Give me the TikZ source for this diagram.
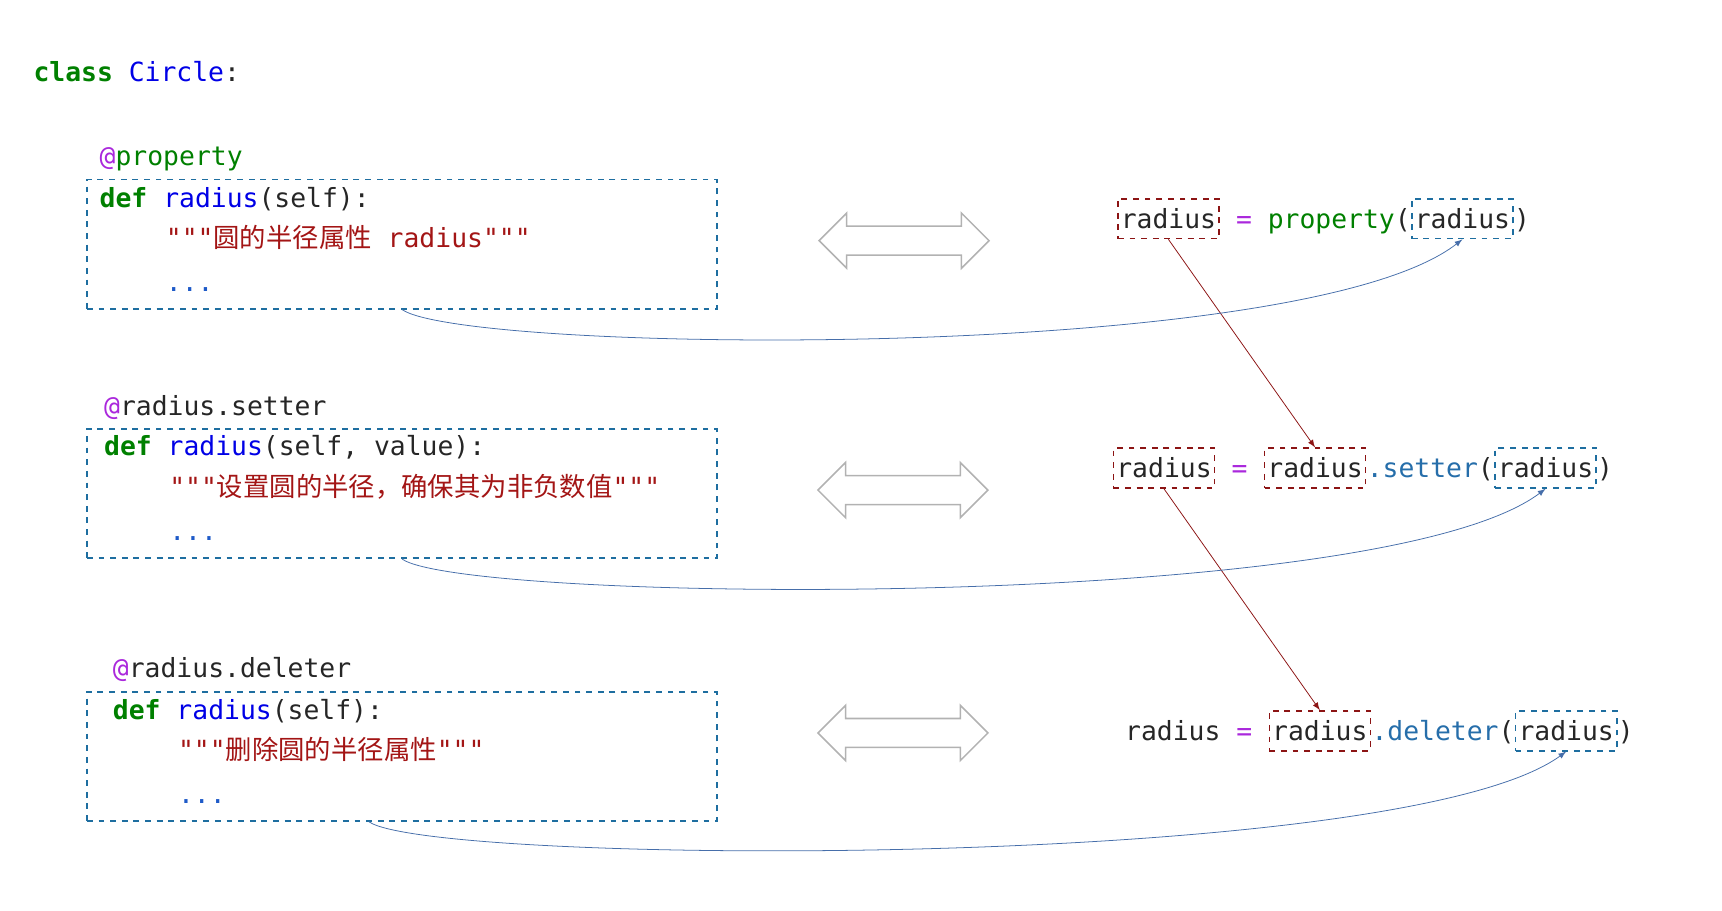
\documentclass[tikz,border=0pt]{standalone}
\usepackage{fontspec}
\setmonofont{DejaVu Sans Mono}
\newfontfamily\cjk{Noto Sans CJK SC}
\usetikzlibrary{shapes.arrows}
\definecolor{kw}{RGB}{0,128,0}
\definecolor{fn}{RGB}{0,0,230}
\definecolor{deco}{RGB}{170,40,220}
\definecolor{str}{RGB}{163,21,21}
\definecolor{dots}{RGB}{30,90,200}
\definecolor{meth}{RGB}{38,110,170}
\definecolor{bbox}{RGB}{30,110,160}
\definecolor{rbox}{RGB}{140,20,20}
\definecolor{curve}{RGB}{70,110,170}
\newcommand{\kwd}[1]{\textcolor{kw}{\textbf{#1}}}
\begin{document}
\begin{tikzpicture}[x=0.02cm,y=-0.02cm,
  code/.style={font=\ttfamily\fontsize{13.6}{16}\selectfont, anchor=base west, inner sep=0pt, text=black!85},
  cbox/.style={draw=bbox, dashed, thick, anchor=north west, inner sep=0pt, minimum width=11.42cm, minimum height=2.34cm},
  tok/.style={code},
  rb/.style={code, draw=rbox, dashed, thick, inner xsep=1.5pt, inner ysep=5pt},
  bb/.style={code, draw=bbox, dashed, thick, inner xsep=1.5pt, inner ysep=5pt},
  dbl/.style={double arrow, draw=black!30, thick, minimum height=3.08cm, minimum width=1cm, double arrow head extend=4pt, inner sep=4pt},
  redarr/.style={-latex, draw=rbox},
  bluearr/.style={-latex, draw=curve}]
\useasboundingbox (0,0) rectangle (1560,825);
\node[code] (cls) at (30,74) {\kwd{class} \textcolor{fn}{Circle}:};
% block 1
\node[cbox] (box1) at (78,162) {};
\node[code] (d1) at (90,150) {\textcolor{deco}{@}\textcolor{kw}{property}};
\node[code] (f1) at (90,188) {\kwd{def} \textcolor{fn}{radius}(self):};
\node[code] (s1) at (150,224) {\textcolor{str}{"""{\cjk 圆的半径属性} radius"""}};
\node[code] (e1) at (150,264) {\textcolor{dots}{...}};
% block 2
\node[cbox] (box2) at (78,388) {};
\node[code] (d2) at (94,376) {\textcolor{deco}{@}radius.setter};
\node[code] (f2) at (94,413) {\kwd{def} \textcolor{fn}{radius}(self, value):};
\node[code] (s2) at (153,450) {\textcolor{str}{"""{\cjk 设置圆的半径，确保其为非负数值}"""}};
\node[code] (e2) at (153,490) {\textcolor{dots}{...}};
% block 3
\node[cbox] (box3) at (78,626) {};
\node[code] (d3) at (102,614) {\textcolor{deco}{@}radius.deleter};
\node[code] (f3) at (102,652) {\kwd{def} \textcolor{fn}{radius}(self):};
\node[code] (s3) at (161,688) {\textcolor{str}{"""{\cjk 删除圆的半径属性}"""}};
\node[code] (e3) at (161,728) {\textcolor{dots}{...}};
% double arrows
\node[dbl] (a1) at (819,218) {};
\node[dbl] (a2) at (818,444) {};
\node[dbl] (a3) at (818,664) {};
% right line 1
\node[rb] (r1a) at (1012,207) {radius};
\node[tok] (r1b) at (r1a.base east) {\ \textcolor{deco}{=}\ \textcolor{kw}{property}(};
\node[bb] (r1c) at (r1b.base east) {radius};
\node[tok] (r1d) at (r1c.base east) {)};
% right line 2
\node[rb] (r2a) at (1008,433) {radius};
\node[tok] (r2b) at (r2a.base east) {\ \textcolor{deco}{=}\ \mbox{}};
\node[rb] (r2c) at (r2b.base east) {radius};
\node[tok] (r2d) at (r2c.base east) {\textcolor{meth}{.setter}(};
\node[bb] (r2e) at (r2d.base east) {radius};
\node[tok] (r2f) at (r2e.base east) {)};
% right line 3
\node[tok] (r3a) at (1019,671) {radius\ \textcolor{deco}{=}\ \mbox{}};
\node[rb] (r3c) at (r3a.base east) {radius};
\node[tok] (r3d) at (r3c.base east) {\textcolor{meth}{.deleter}(};
\node[bb] (r3e) at (r3d.base east) {radius};
\node[tok] (r3f) at (r3e.base east) {)};
% connectors
\draw[redarr] (r1a.south) -- (r2c.north);
\draw[redarr] (r2a.south) -- (r3c.north);
\draw[bluearr] (box1.south) .. controls (420,320) and (1180,330) .. (r1c.south);
\draw[bluearr] (box2.south) .. controls (420,546) and (1250,556) .. (r2e.south);
\draw[bluearr] (box3.south) ++(-30,0) .. controls (390,784) and (1270,790) .. (r3e.south);
\end{tikzpicture}
\end{document}
